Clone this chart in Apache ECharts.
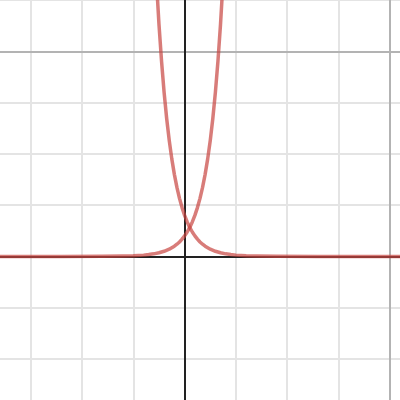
<!DOCTYPE html>
<html>
<head>
<meta charset="utf-8">
<script src="https://cdn.jsdelivr.net/npm/echarts@6/dist/echarts.min.js"></script>
<style>html,body{margin:0;padding:0;background:#fff}#c{width:400px;height:400px}</style>
</head>
<body>
<div id="c"></div>
<script>
// Curve 1: rising curve (y = 2^(x+1))
var risingX = [-18, -12, -8, -6, -5, -4, -3.5, -3, -2.5, -2, -1.5, -1, -0.75, -0.5, -0.25, 0, 0.25, 0.5, 0.75, 1, 1.25, 1.5, 1.75, 2, 2.25, 2.5, 2.75, 3, 3.25, 3.5, 3.75, 4];
var risingY = [0, 0.001, 0.008, 0.031, 0.063, 0.125, 0.177, 0.25, 0.354, 0.5, 0.707, 1, 1.19, 1.41, 1.68, 2, 2.38, 2.83, 3.36, 4, 4.76, 5.66, 6.73, 8, 9.51, 11.31, 13.45, 16, 19.03, 22.63, 26.91, 32];
// Curve 2: falling curve (y = 2^(2-x))
var fallingX = [-3, -2.75, -2.5, -2.25, -2, -1.75, -1.5, -1.25, -1, -0.75, -0.5, -0.25, 0, 0.25, 0.5, 0.75, 1, 1.25, 1.5, 1.75, 2, 2.5, 3, 3.5, 4, 4.5, 5, 6, 7, 9, 13, 21];
var fallingY = [32, 26.91, 22.63, 19.03, 16, 13.45, 11.31, 9.51, 8, 6.73, 5.66, 4.76, 4, 3.36, 2.83, 2.38, 2, 1.68, 1.41, 1.19, 1, 0.707, 0.5, 0.354, 0.25, 0.177, 0.125, 0.063, 0.031, 0.008, 0.001, 0];
// Grid lines
var minorX = [-15, -10, -5, 5, 10, 15];
var majorX = [20];
var minorY = [-10, -5, 5, 10, 15, 25];
var majorY = [20];

function pairs(xs, ys){ return xs.map(function(x,i){ return [x, ys[i]]; }); }

var minorStyle = {color:'#e4e4e4', width:2, type:'solid'};
var majorStyle = {color:'#b3b3b3', width:2, type:'solid'};
var gridData = [];
minorX.forEach(function(v){ gridData.push({xAxis: v, lineStyle: minorStyle}); });
minorY.forEach(function(v){ gridData.push({yAxis: v, lineStyle: minorStyle}); });
majorX.forEach(function(v){ gridData.push({xAxis: v, lineStyle: majorStyle}); });
majorY.forEach(function(v){ gridData.push({yAxis: v, lineStyle: majorStyle}); });

var chart = echarts.init(document.getElementById('c'), null, {renderer:'canvas'});
chart.setOption({
  animation: false,
  backgroundColor: '#ffffff',
  grid: {left: 0, right: 0, top: 0, bottom: 0},
  xAxis: {
    type: 'value', min: -18, max: 21, z: 2,
    axisLine: {show: true, onZero: true, lineStyle: {color: '#222', width: 2}},
    axisTick: {show: false}, axisLabel: {show: false}, splitLine: {show: false}
  },
  yAxis: {
    type: 'value', min: -14, max: 25, z: 2,
    axisLine: {show: true, onZero: true, lineStyle: {color: '#222', width: 2}},
    axisTick: {show: false}, axisLabel: {show: false}, splitLine: {show: false}
  },
  series: [
    {
      type: 'line', z: 0, data: [], silent: true,
      markLine: {z: 0, silent: true, symbol: ['none','none'], label: {show: false}, animation: false,
        lineStyle: {type: 'solid'}, emphasis: {disabled: true}, data: gridData}
    },
    {
      type: 'line', z: 3, data: pairs(risingX, risingY), showSymbol: false, symbol: 'none',
      lineStyle: {color: '#c74440', width: 3.5, opacity: 0.7, join: 'round', cap: 'round'}
    },
    {
      type: 'line', z: 3, data: pairs(fallingX, fallingY), showSymbol: false, symbol: 'none',
      lineStyle: {color: '#c74440', width: 3.5, opacity: 0.7, join: 'round', cap: 'round'}
    }
  ]
});
</script>
</body>
</html>
